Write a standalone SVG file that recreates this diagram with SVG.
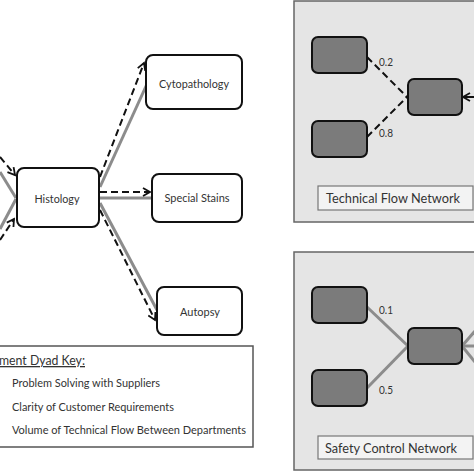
<svg xmlns="http://www.w3.org/2000/svg" width="474" height="474" viewBox="0 0 474 474">
<style>
.box{fill:#fff;stroke:#111;stroke-width:2}
.dk{fill:#7b7b7b;stroke:#111;stroke-width:2}
.panel{fill:#e5e5e5;stroke:#666;stroke-width:1.5}
.lbl{fill:#f3f3f3;stroke:#777;stroke-width:1.2}
.t{font-family:Lato,"Open Sans","Liberation Sans",sans-serif;fill:#333;font-size:11px}
.tb{font-family:Lato,"Open Sans","Liberation Sans",sans-serif;fill:#333;font-size:13px}
.dash{stroke:#111;stroke-width:2;stroke-dasharray:7,4;fill:none}
.grey{stroke:#8c8c8c;stroke-width:3;fill:none}
.blk{stroke:#111;stroke-width:2;fill:none}
</style>
<defs>
<marker id="arr" markerWidth="10" markerHeight="10" refX="8" refY="5" orient="auto" markerUnits="userSpaceOnUse">
<path d="M1,1 L8,5 L1,9" fill="none" stroke="#111" stroke-width="1.8"/>
</marker>
</defs>
<rect width="474" height="474" fill="#fff"/>

<g id="panel-technical">
<rect class="panel" x="294" y="1" width="185" height="221"/>
</g>
<g id="panel-safety">
<rect class="panel" x="294" y="252" width="185" height="218"/>
</g>

<g id="connectors">
<line class="grey" x1="0" y1="172" x2="16" y2="198"/>
<line class="grey" x1="0" y1="229" x2="16" y2="199"/>
<line class="dash" x1="0" y1="157" x2="15" y2="175" marker-end="url(#arr)"/>
<line class="dash" x1="0" y1="240" x2="14" y2="219" marker-end="url(#arr)"/>
<line class="grey" x1="100" y1="187" x2="147" y2="84"/>
<line class="dash" x1="100" y1="177" x2="144" y2="63" marker-end="url(#arr)"/>
<line class="grey" x1="100" y1="198" x2="152" y2="198"/>
<line class="dash" x1="100" y1="192" x2="150" y2="192" marker-end="url(#arr)"/>
<line class="grey" x1="100" y1="203" x2="157" y2="310"/>
<line class="dash" x1="100" y1="210" x2="155" y2="320" marker-end="url(#arr)"/>
<line class="dash" x1="367" y1="57" x2="407" y2="97"/>
<line class="dash" x1="367" y1="137" x2="407" y2="97"/>
<line class="blk" x1="474" y1="97" x2="463" y2="97" marker-end="url(#arr)"/>
<line class="grey" x1="367" y1="307" x2="408" y2="346"/>
<line class="grey" x1="367" y1="388" x2="408" y2="346"/>
<line class="grey" x1="462" y1="346" x2="475" y2="331"/>
<line class="grey" x1="462" y1="346" x2="475" y2="346"/>
<line class="grey" x1="462" y1="346" x2="475" y2="362"/>
</g>

<g id="histology">
<rect class="box" x="17" y="168" width="82" height="59" rx="7"/>
<text class="t" x="57" y="203" text-anchor="middle" textLength="45" lengthAdjust="spacingAndGlyphs">Histology</text>
</g>
<g id="cytopathology">
<rect class="box" x="146" y="55" width="96" height="54" rx="7"/>
<text class="t" x="194" y="88" text-anchor="middle" textLength="70" lengthAdjust="spacingAndGlyphs">Cytopathology</text>
</g>
<g id="special-stains">
<rect class="box" x="152" y="174" width="90" height="48" rx="7"/>
<text class="t" x="197" y="202" text-anchor="middle" textLength="65" lengthAdjust="spacingAndGlyphs">Special Stains</text>
</g>
<g id="autopsy">
<rect class="box" x="157" y="287" width="85" height="48" rx="7"/>
<text class="t" x="200" y="316" text-anchor="middle" textLength="40" lengthAdjust="spacingAndGlyphs">Autopsy</text>
</g>

<g id="tf-node1"><rect class="dk" x="312" y="37" width="55" height="36" rx="6"/></g>
<g id="tf-node2"><rect class="dk" x="312" y="121" width="55" height="36" rx="6"/></g>
<g id="tf-center"><rect class="dk" x="408" y="79" width="54" height="36" rx="6"/></g>
<text class="t" x="379" y="66" textLength="14" lengthAdjust="spacingAndGlyphs">0.2</text>
<text class="t" x="379" y="137" textLength="14" lengthAdjust="spacingAndGlyphs">0.8</text>
<g id="tf-label">
<rect class="lbl" x="318" y="186" width="155" height="24"/>
<text class="tb" x="326" y="203" textLength="134" lengthAdjust="spacingAndGlyphs">Technical Flow Network</text>
</g>

<g id="sc-node1"><rect class="dk" x="312" y="287" width="55" height="36" rx="6"/></g>
<g id="sc-node2"><rect class="dk" x="312" y="370" width="55" height="36" rx="6"/></g>
<g id="sc-center"><rect class="dk" x="408" y="328" width="54" height="36" rx="6"/></g>
<text class="t" x="379" y="314" textLength="14" lengthAdjust="spacingAndGlyphs">0.1</text>
<text class="t" x="379" y="394" textLength="14" lengthAdjust="spacingAndGlyphs">0.5</text>
<g id="sc-label">
<rect class="lbl" x="318" y="436" width="155" height="23"/>
<text class="tb" x="325" y="453" textLength="132" lengthAdjust="spacingAndGlyphs">Safety Control Network</text>
</g>

<g id="key">
<rect x="-2" y="346" width="255" height="101" fill="#fff" stroke="#555" stroke-width="1.5"/>
<text class="tb" x="-1" y="365" text-decoration="underline" textLength="86" lengthAdjust="spacingAndGlyphs">ment Dyad Key:</text>
<text class="t" x="12" y="387" textLength="148" lengthAdjust="spacingAndGlyphs">Problem Solving with Suppliers</text>
<text class="t" x="12" y="411" textLength="162" lengthAdjust="spacingAndGlyphs">Clarity of Customer Requirements</text>
<text class="t" x="12" y="434" textLength="234" lengthAdjust="spacingAndGlyphs">Volume of Technical Flow Between Departments</text>
</g>
</svg>
